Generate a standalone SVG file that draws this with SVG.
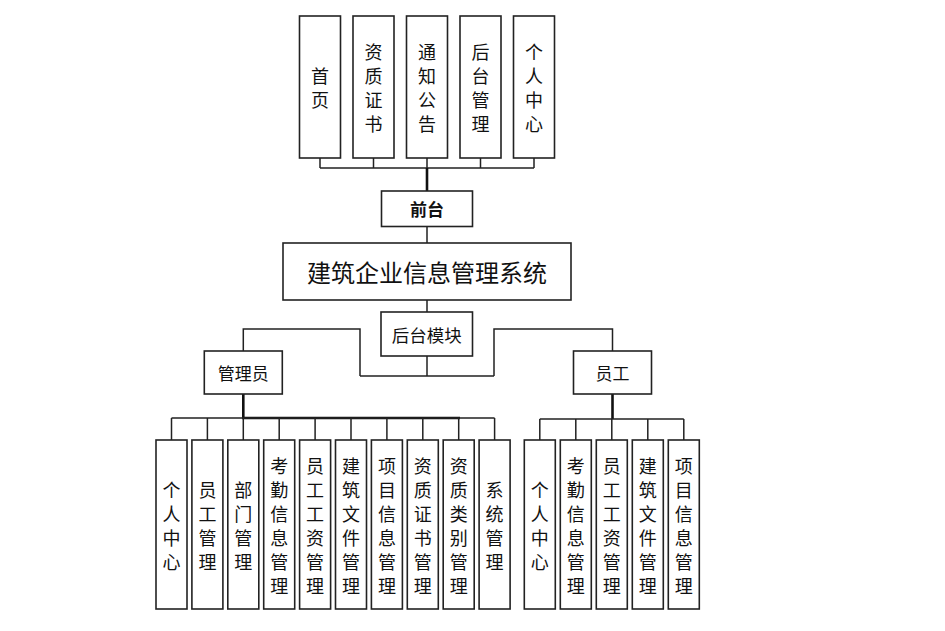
<svg xmlns="http://www.w3.org/2000/svg" width="945" height="631" viewBox="0 0 945 631">
<style>
.box{fill:#fff;stroke:#222;stroke-width:1.6}
.t{font-family:"Noto Sans CJK SC","Liberation Sans",sans-serif;font-size:18px;fill:#111;text-anchor:middle;dominant-baseline:central}
.c{fill:none;stroke:#222;stroke-width:1.5}
.th{fill:none;stroke:#111;stroke-width:2.6}
</style>
<rect width="945" height="631" fill="#fff"/>
<g id="connectors">
<path class="c" d="M320 158V168M373.5 158V168M427 158V168M480.5 158V168M534 158V168M320 168H534"/>
<path class="th" d="M427 168V191"/>
<path class="c" d="M427 226.5V243M427 300V312M427 356V376M360 376H494M360 376V329H243.3V351M494 376V329H612.5V351"/>
<path class="th" d="M243.3 394V418H460"/>
<path class="c" d="M171.5 418H494.6M171.5 418V440M207.4 418V440M243.3 418V440M279.2 418V440M315.1 418V440M351 418V440M386.9 418V440M422.8 418V440M458.7 418V440M494.6 418V440"/>
<path class="th" d="M612.5 394V419"/>
<path class="c" d="M539.8 419H683.8M539.8 419V440M575.8 419V440M611.8 419V440M647.8 419V440M683.8 419V440"/>
</g>
<g id="n-shouye"><rect class="box" x="299.5" y="16" width="41" height="142"/><text class="t"><tspan x="320" y="75">首</tspan><tspan x="320" y="99">页</tspan></text></g>
<g id="n-zizhi"><rect class="box" x="353" y="16" width="41" height="142"/><text class="t"><tspan x="373.5" y="51">资</tspan><tspan x="373.5" y="75">质</tspan><tspan x="373.5" y="99">证</tspan><tspan x="373.5" y="123">书</tspan></text></g>
<g id="n-tongzhi"><rect class="box" x="406.5" y="16" width="41" height="142"/><text class="t"><tspan x="427" y="51">通</tspan><tspan x="427" y="75">知</tspan><tspan x="427" y="99">公</tspan><tspan x="427" y="123">告</tspan></text></g>
<g id="n-houtai"><rect class="box" x="460" y="16" width="41" height="142"/><text class="t"><tspan x="480.5" y="51">后</tspan><tspan x="480.5" y="75">台</tspan><tspan x="480.5" y="99">管</tspan><tspan x="480.5" y="123">理</tspan></text></g>
<g id="n-geren"><rect class="box" x="513.5" y="16" width="41" height="142"/><text class="t"><tspan x="534" y="51">个</tspan><tspan x="534" y="75">人</tspan><tspan x="534" y="99">中</tspan><tspan x="534" y="123">心</tspan></text></g>
<g id="n-qiantai"><rect class="box" x="381.5" y="191" width="91" height="35.5"/><text class="t" x="427" y="208.5" style="font-size:17px;font-weight:bold">前台</text></g>
<g id="n-main"><rect class="box" x="283" y="243" width="288" height="57"/><text class="t" x="427" y="271.5" style="font-size:24px">建筑企业信息管理系统</text></g>
<g id="n-houtaimokuai"><rect class="box" x="381" y="312" width="91.5" height="44"/><text class="t" x="426.7" y="334" style="font-size:17.5px">后台模块</text></g>
<g id="n-admin"><rect class="box" x="204.3" y="351" width="78" height="43"/><text class="t" x="243.3" y="372.5" style="font-size:17px">管理员</text></g>
<g id="n-staff"><rect class="box" x="573.5" y="351" width="78" height="43"/><text class="t" x="612.5" y="372.5" style="font-size:17px">员工</text></g>
<g id="a1"><rect class="box" x="156" y="440" width="31" height="169"/><text class="t"><tspan x="171.5" y="488.5">个</tspan><tspan x="171.5" y="512.5">人</tspan><tspan x="171.5" y="536.5">中</tspan><tspan x="171.5" y="560.5">心</tspan></text></g>
<g id="a2"><rect class="box" x="191.9" y="440" width="31" height="169"/><text class="t"><tspan x="207.4" y="488.5">员</tspan><tspan x="207.4" y="512.5">工</tspan><tspan x="207.4" y="536.5">管</tspan><tspan x="207.4" y="560.5">理</tspan></text></g>
<g id="a3"><rect class="box" x="227.8" y="440" width="31" height="169"/><text class="t"><tspan x="243.3" y="488.5">部</tspan><tspan x="243.3" y="512.5">门</tspan><tspan x="243.3" y="536.5">管</tspan><tspan x="243.3" y="560.5">理</tspan></text></g>
<g id="a4"><rect class="box" x="263.7" y="440" width="31" height="169"/><text class="t"><tspan x="279.2" y="464.5">考</tspan><tspan x="279.2" y="488.5">勤</tspan><tspan x="279.2" y="512.5">信</tspan><tspan x="279.2" y="536.5">息</tspan><tspan x="279.2" y="560.5">管</tspan><tspan x="279.2" y="584.5">理</tspan></text></g>
<g id="a5"><rect class="box" x="299.6" y="440" width="31" height="169"/><text class="t"><tspan x="315.1" y="464.5">员</tspan><tspan x="315.1" y="488.5">工</tspan><tspan x="315.1" y="512.5">工</tspan><tspan x="315.1" y="536.5">资</tspan><tspan x="315.1" y="560.5">管</tspan><tspan x="315.1" y="584.5">理</tspan></text></g>
<g id="a6"><rect class="box" x="335.5" y="440" width="31" height="169"/><text class="t"><tspan x="351" y="464.5">建</tspan><tspan x="351" y="488.5">筑</tspan><tspan x="351" y="512.5">文</tspan><tspan x="351" y="536.5">件</tspan><tspan x="351" y="560.5">管</tspan><tspan x="351" y="584.5">理</tspan></text></g>
<g id="a7"><rect class="box" x="371.4" y="440" width="31" height="169"/><text class="t"><tspan x="386.9" y="464.5">项</tspan><tspan x="386.9" y="488.5">目</tspan><tspan x="386.9" y="512.5">信</tspan><tspan x="386.9" y="536.5">息</tspan><tspan x="386.9" y="560.5">管</tspan><tspan x="386.9" y="584.5">理</tspan></text></g>
<g id="a8"><rect class="box" x="407.3" y="440" width="31" height="169"/><text class="t"><tspan x="422.8" y="464.5">资</tspan><tspan x="422.8" y="488.5">质</tspan><tspan x="422.8" y="512.5">证</tspan><tspan x="422.8" y="536.5">书</tspan><tspan x="422.8" y="560.5">管</tspan><tspan x="422.8" y="584.5">理</tspan></text></g>
<g id="a9"><rect class="box" x="443.2" y="440" width="31" height="169"/><text class="t"><tspan x="458.7" y="464.5">资</tspan><tspan x="458.7" y="488.5">质</tspan><tspan x="458.7" y="512.5">类</tspan><tspan x="458.7" y="536.5">别</tspan><tspan x="458.7" y="560.5">管</tspan><tspan x="458.7" y="584.5">理</tspan></text></g>
<g id="a10"><rect class="box" x="479.1" y="440" width="31" height="169"/><text class="t"><tspan x="494.6" y="488.5">系</tspan><tspan x="494.6" y="512.5">统</tspan><tspan x="494.6" y="536.5">管</tspan><tspan x="494.6" y="560.5">理</tspan></text></g>
<g id="s1"><rect class="box" x="524.3" y="440" width="31" height="169"/><text class="t"><tspan x="539.8" y="488.5">个</tspan><tspan x="539.8" y="512.5">人</tspan><tspan x="539.8" y="536.5">中</tspan><tspan x="539.8" y="560.5">心</tspan></text></g>
<g id="s2"><rect class="box" x="560.3" y="440" width="31" height="169"/><text class="t"><tspan x="575.8" y="464.5">考</tspan><tspan x="575.8" y="488.5">勤</tspan><tspan x="575.8" y="512.5">信</tspan><tspan x="575.8" y="536.5">息</tspan><tspan x="575.8" y="560.5">管</tspan><tspan x="575.8" y="584.5">理</tspan></text></g>
<g id="s3"><rect class="box" x="596.3" y="440" width="31" height="169"/><text class="t"><tspan x="611.8" y="464.5">员</tspan><tspan x="611.8" y="488.5">工</tspan><tspan x="611.8" y="512.5">工</tspan><tspan x="611.8" y="536.5">资</tspan><tspan x="611.8" y="560.5">管</tspan><tspan x="611.8" y="584.5">理</tspan></text></g>
<g id="s4"><rect class="box" x="632.3" y="440" width="31" height="169"/><text class="t"><tspan x="647.8" y="464.5">建</tspan><tspan x="647.8" y="488.5">筑</tspan><tspan x="647.8" y="512.5">文</tspan><tspan x="647.8" y="536.5">件</tspan><tspan x="647.8" y="560.5">管</tspan><tspan x="647.8" y="584.5">理</tspan></text></g>
<g id="s5"><rect class="box" x="668.3" y="440" width="31" height="169"/><text class="t"><tspan x="683.8" y="464.5">项</tspan><tspan x="683.8" y="488.5">目</tspan><tspan x="683.8" y="512.5">信</tspan><tspan x="683.8" y="536.5">息</tspan><tspan x="683.8" y="560.5">管</tspan><tspan x="683.8" y="584.5">理</tspan></text></g>
</svg>
